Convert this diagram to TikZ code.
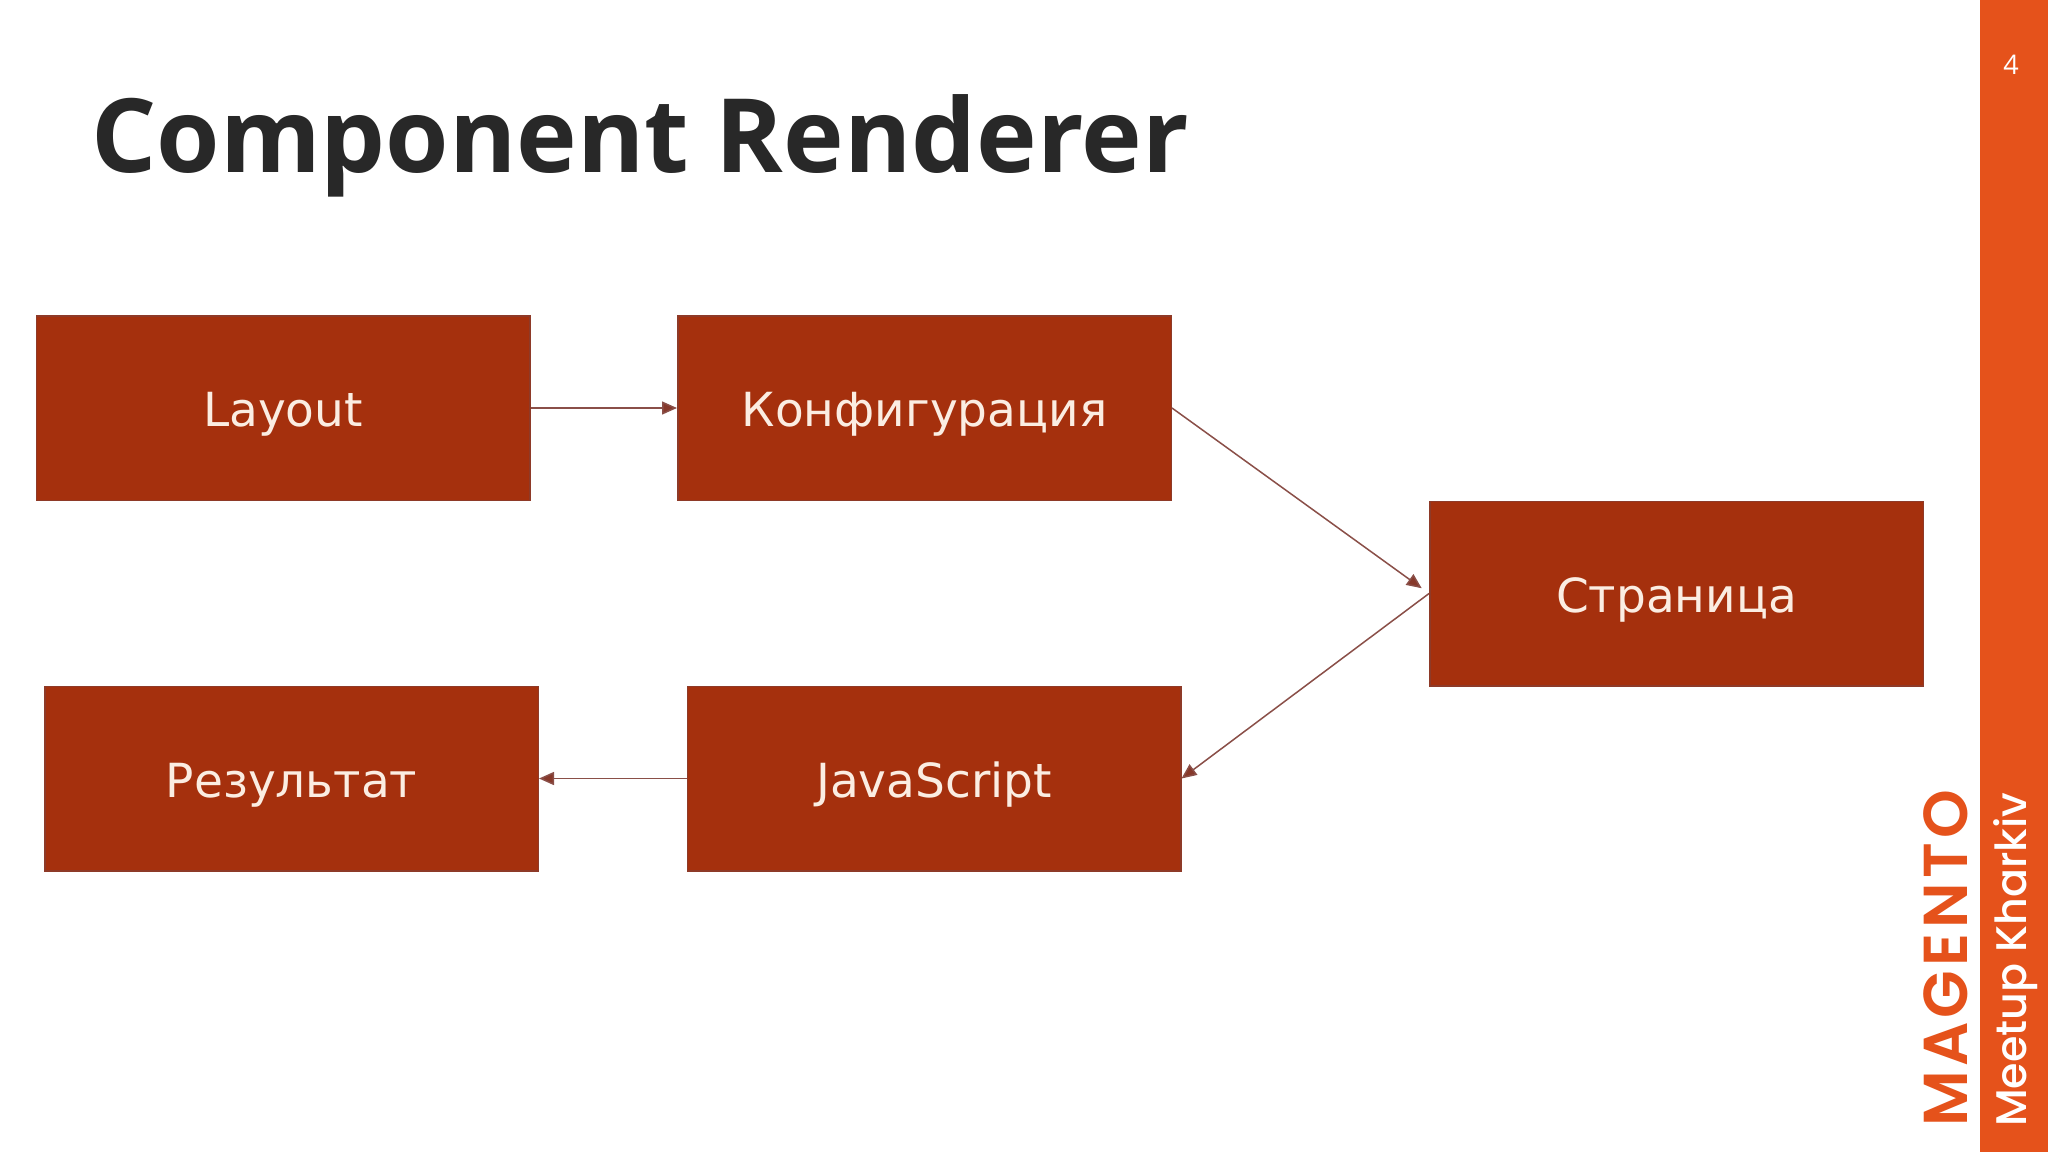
\documentclass[tikz,border=0pt]{standalone}
\usepackage{fontspec}
\setmainfont{DejaVu Sans}
\newfontfamily\titlefont{Open Sans}
\newfontfamily\brandfont[LetterSpace=7]{Poppins SemiBold}
\newfontfamily\meetupfont{Poppins Medium}
\usetikzlibrary{arrows.meta}
\definecolor{boxfill}{HTML}{A5300D}
\definecolor{boxedge}{HTML}{8E3A28}
\definecolor{linkcol}{HTML}{8A4F48}
\definecolor{tipcol}{HTML}{86382A}
\definecolor{barcol}{HTML}{E5521B}
\definecolor{titlecol}{HTML}{282828}
\definecolor{labelcol}{HTML}{FBEDE2}
\tikzset{
  x=1pt,y=-1pt,
  stepbox/.style={draw=boxedge,line width=1.5pt,fill=boxfill,text=labelcol,minimum width=493.5pt,minimum height=184.5pt,inner sep=0pt,anchor=center,text height=37pt,text depth=0pt,font=\fontsize{47}{50}\selectfont},
  link/.style={draw=linkcol,line width=1.5pt,-{Triangle[length=15pt,width=13pt,fill=tipcol]}}
}
\begin{document}
\begin{tikzpicture}
\useasboundingbox (0,0) rectangle (2048,1152);
\fill[white] (0,0) rectangle (2048,1152);
\fill[barcol] (1980,0) rectangle (2048,1152);
\node[anchor=base west,inner sep=0pt,text=titlecol,font=\titlefont\bfseries\fontsize{102.6}{110}\selectfont] (title) at (91,172) {Component Renderer};
\node[text=white,inner sep=0pt,font=\titlefont\fontsize{27}{30}\selectfont] (pagenum) at (2011,65) {4};
\node[stepbox] (layout) at (283,408) {Layout};
\node[stepbox] (conf) at (924.5,408) {Конфигурация};
\node[stepbox] (page) at (1676.5,593.5) {Страница};
\node[stepbox] (res) at (291.5,778.5) {Результат};
\node[stepbox] (js) at (934,778.5) {JavaScript};
\draw[link] (layout.east) -- (conf.west);
\draw[link,shorten >=9pt] (conf.east) -- (page.west);
\draw[link] (page.west) -- (js.east);
\draw[link] (js.west) -- (res.east);
\node[rotate=90,anchor=base west,inner sep=0pt,text=barcol,font=\brandfont\fontsize{62}{66}\selectfont] (brand) at (1967,1127) {MAGENTO};
\node[rotate=90,anchor=base west,inner sep=0pt,text=white,font=\meetupfont\fontsize{42.8}{48}\selectfont] (meetup) at (2026,1127) {Meetup Kharkiv};
\end{tikzpicture}
\end{document}
